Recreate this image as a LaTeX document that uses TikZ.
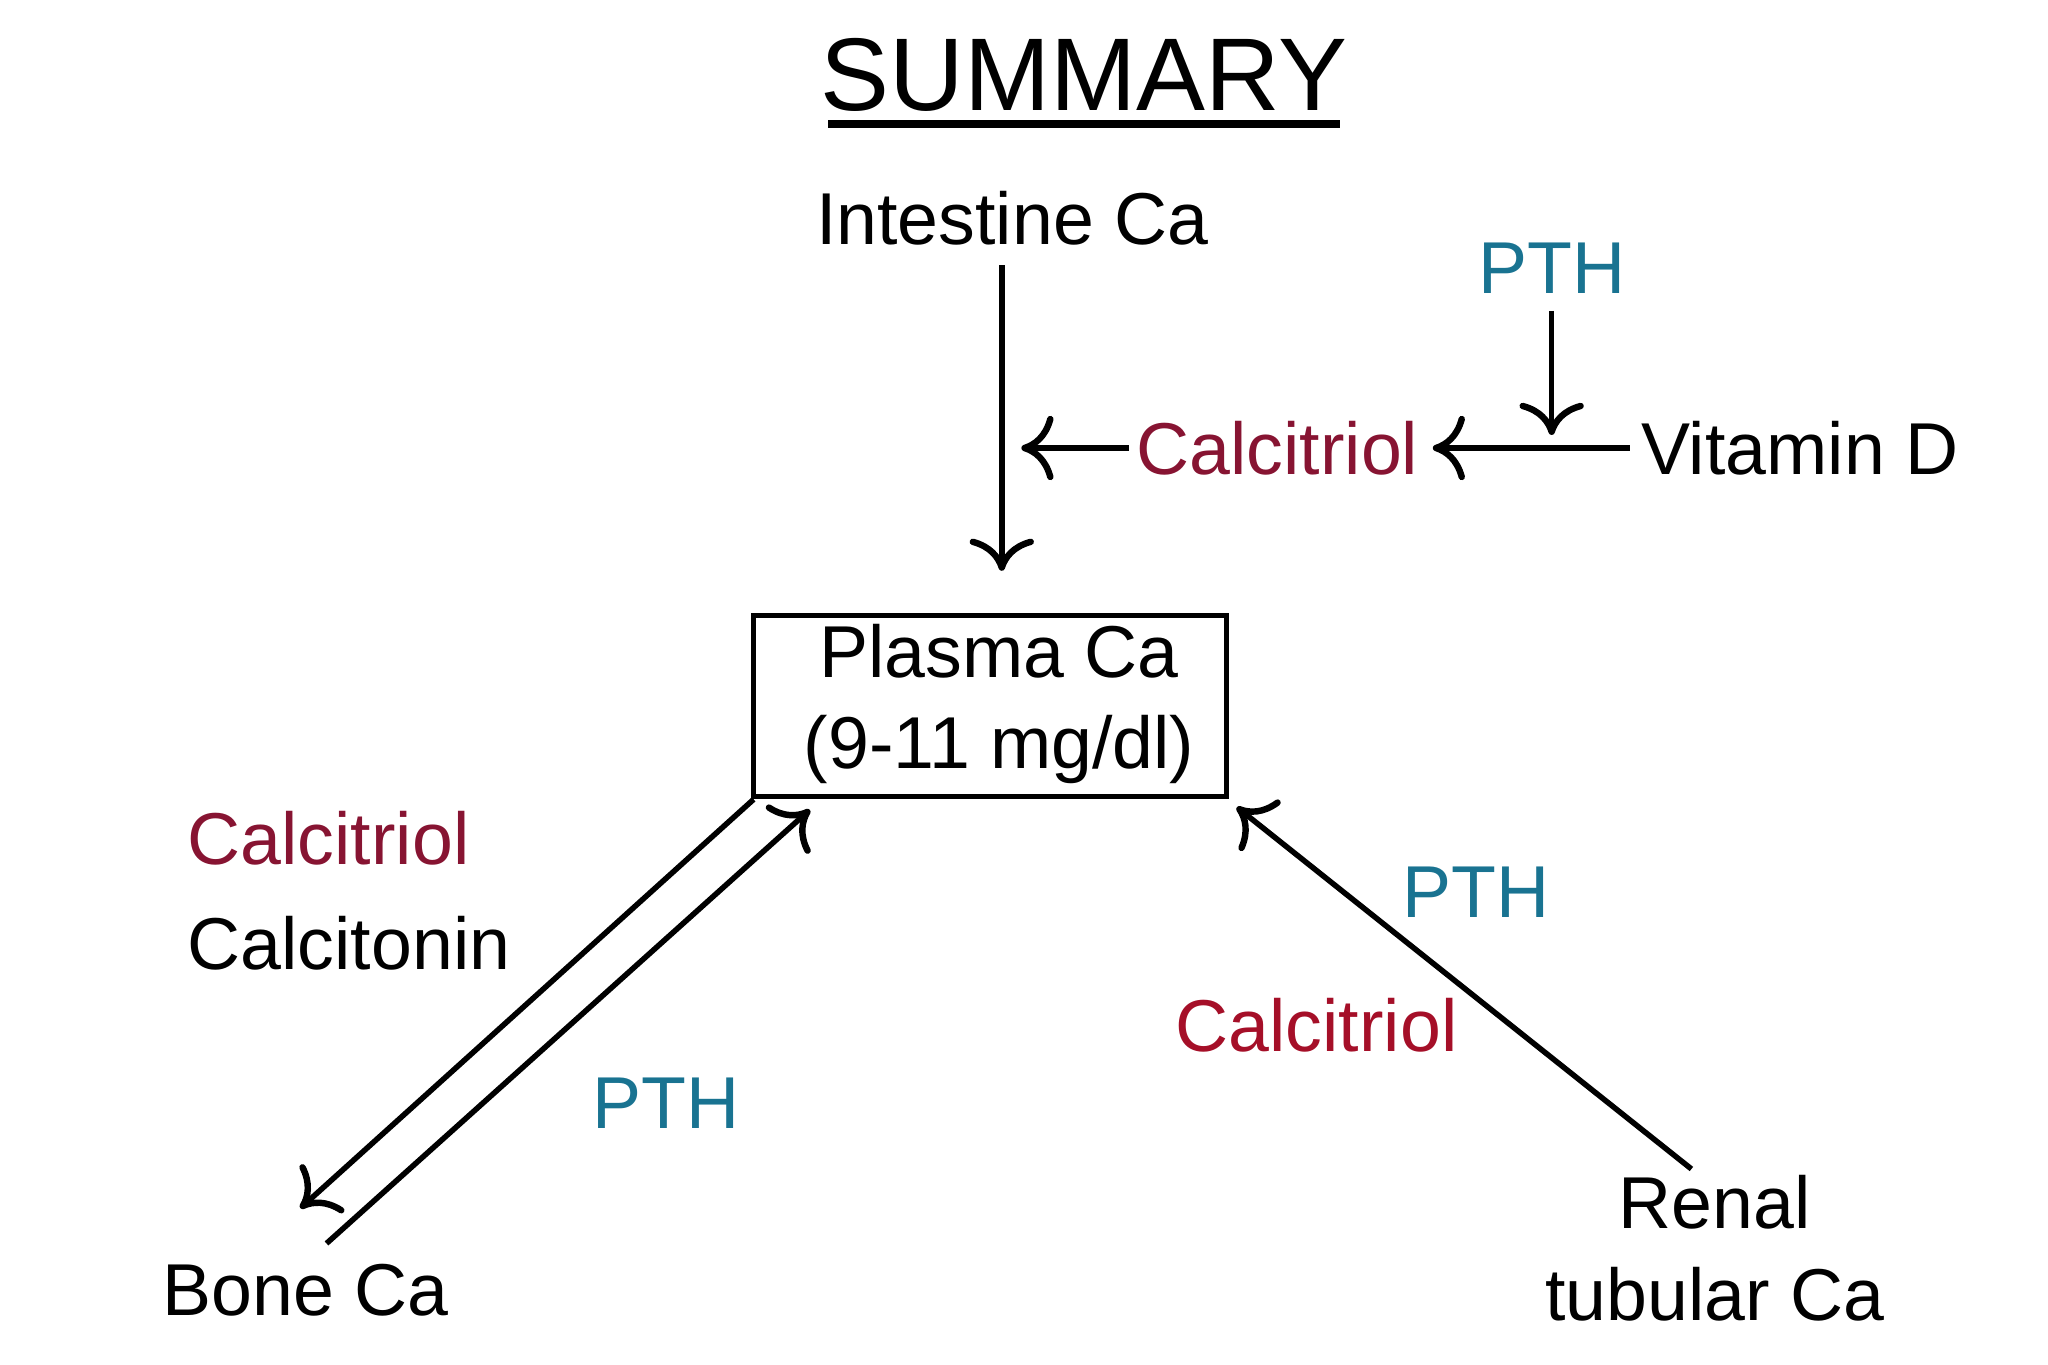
\documentclass[tikz,border=0pt]{standalone}
\usepackage{fontspec}
\setmainfont{Liberation Sans}
\usetikzlibrary{arrows.meta}
\definecolor{pthc}{RGB}{25,115,145}
\definecolor{calc}{RGB}{135,20,50}
\definecolor{calc2}{RGB}{165,15,40}
\begin{document}
\begin{tikzpicture}[x=0.01cm,y=-0.01cm,
  lbl/.style={inner sep=0pt,font=\fontsize{16}{16}\selectfont},
  arr/.style={line width=1.2pt,-{To[length=7pt,width=14pt,line width=1.4pt]}},
  ln/.style={line width=1.1pt}]
\useasboundingbox (0,0) rectangle (1568,1045);
\node[lbl,font=\fontsize{22.5}{26}\selectfont] (title) at (830,57) {SUMMARY};
\draw[line width=1.6pt] (634,95) -- (1026,95);
\node[lbl] (int) at (775,167) {Intestine Ca};
\node[lbl,text=pthc] (pth1) at (1188,205) {PTH};
\node[lbl] (vitd) at (1378,343) {Vitamin D};
\node[lbl,text=calc] (cal1) at (978,343) {Calcitriol};
\coordinate (i1) at (767,203);
\coordinate (i2) at (767,437);
\coordinate (c1) at (782,343);
\coordinate (p2) at (1188,333);
\coordinate (c2) at (1097,343);
\draw[arr,line width=1.4pt] (i1) -- (i2);
\draw[arr] (cal1.west) ++(-5,0) -- (c1);
\draw[arr] (vitd.west) ++(-8,0) -- (c2);
\draw[arr] (1188,238) -- (p2);
\node[draw,line width=1.1pt,minimum width=362*0.01cm,minimum height=139*0.01cm,inner sep=0pt] (box) at (758,540.5) {};
\node[lbl,align=center,font=\fontsize{16}{20}\selectfont] (plasma) at (765,539) {Plasma Ca\\(9-11 mg/dl)};
\node[lbl,text=calc,anchor=west] (cal2) at (143,642) {Calcitriol};
\node[lbl,anchor=west] (cton) at (143,722) {Calcitonin};
\node[lbl,text=pthc] (pth2) at (510,845) {PTH};
\node[lbl] (bone) at (234,988) {Bone Ca};
\node[lbl,text=pthc] (pth3) at (1130,683) {PTH};
\node[lbl,text=calc2] (cal3) at (1008,785) {Calcitriol};
\node[lbl,align=center,font=\fontsize{16}{20}\selectfont] (renal) at (1313,956) {Renal\\tubular Ca};
\coordinate (b1) at (577,612);
\coordinate (b2) at (230,925);
\coordinate (b3) at (250,952);
\coordinate (b4) at (620,620);
\coordinate (r1) at (1295,895);
\coordinate (r2) at (947,618);
\draw[arr] (b1) -- (b2);
\draw[arr] (b3) -- (b4);
\draw[arr] (r1) -- (r2);
\end{tikzpicture}
\end{document}
